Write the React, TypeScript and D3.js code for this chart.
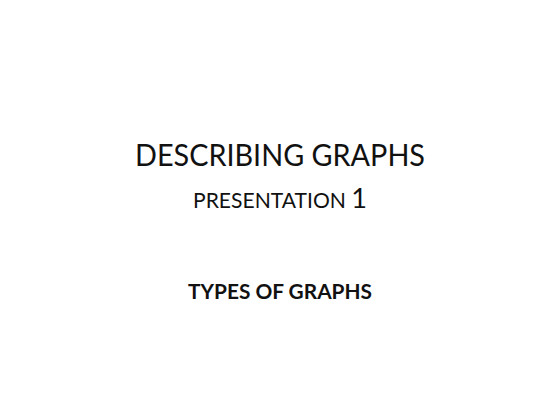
import React, { useRef, useEffect } from "react";
import * as d3 from "d3";

// slide text lines
const titleText = "DESCRIBING GRAPHS";
const subtitleParts = ["PRESENTATION", "1"];
const headingText = "TYPES OF GRAPHS";

const width = 560;
const height = 420;

const App: React.FC = () => {
  const svgRef = useRef<SVGSVGElement>(null);

  useEffect(() => {
    document.body.style.margin = "0";
    if (!svgRef.current) return;
    const svg = d3.select(svgRef.current);
    svg.selectAll("*").remove();

    const font = "Lato, 'Open Sans', sans-serif";
    const cx = width / 2;

    svg
      .append("rect")
      .attr("width", width)
      .attr("height", height)
      .attr("fill", "#ffffff");

    // Title
    svg
      .append("text")
      .attr("x", cx)
      .attr("y", 166)
      .attr("text-anchor", "middle")
      .attr("font-family", font)
      .attr("font-size", 30)
      .attr("fill", "#111")
      .attr("textLength", 290)
      .attr("lengthAdjust", "spacingAndGlyphs")
      .text(titleText);

    // Subtitle with large number
    const sub = svg
      .append("text")
      .attr("x", cx)
      .attr("y", 208)
      .attr("text-anchor", "middle")
      .attr("font-family", font)
      .attr("fill", "#111")
      .attr("textLength", 174)
      .attr("lengthAdjust", "spacingAndGlyphs");
    sub
      .append("tspan")
      .attr("font-size", 21)
      .text(subtitleParts[0] + "  ");
    sub.append("tspan").attr("font-size", 27).text(subtitleParts[1]);

    // Heading
    svg
      .append("text")
      .attr("x", cx)
      .attr("y", 299)
      .attr("text-anchor", "middle")
      .attr("font-family", font)
      .attr("font-weight", "bold")
      .attr("font-size", 21)
      .attr("fill", "#111")
      .attr("textLength", 184)
      .attr("lengthAdjust", "spacingAndGlyphs")
      .text(headingText);
  }, []);

  return <svg ref={svgRef} width={width} height={height} style={{ display: "block" }} />;
};

export default App;
